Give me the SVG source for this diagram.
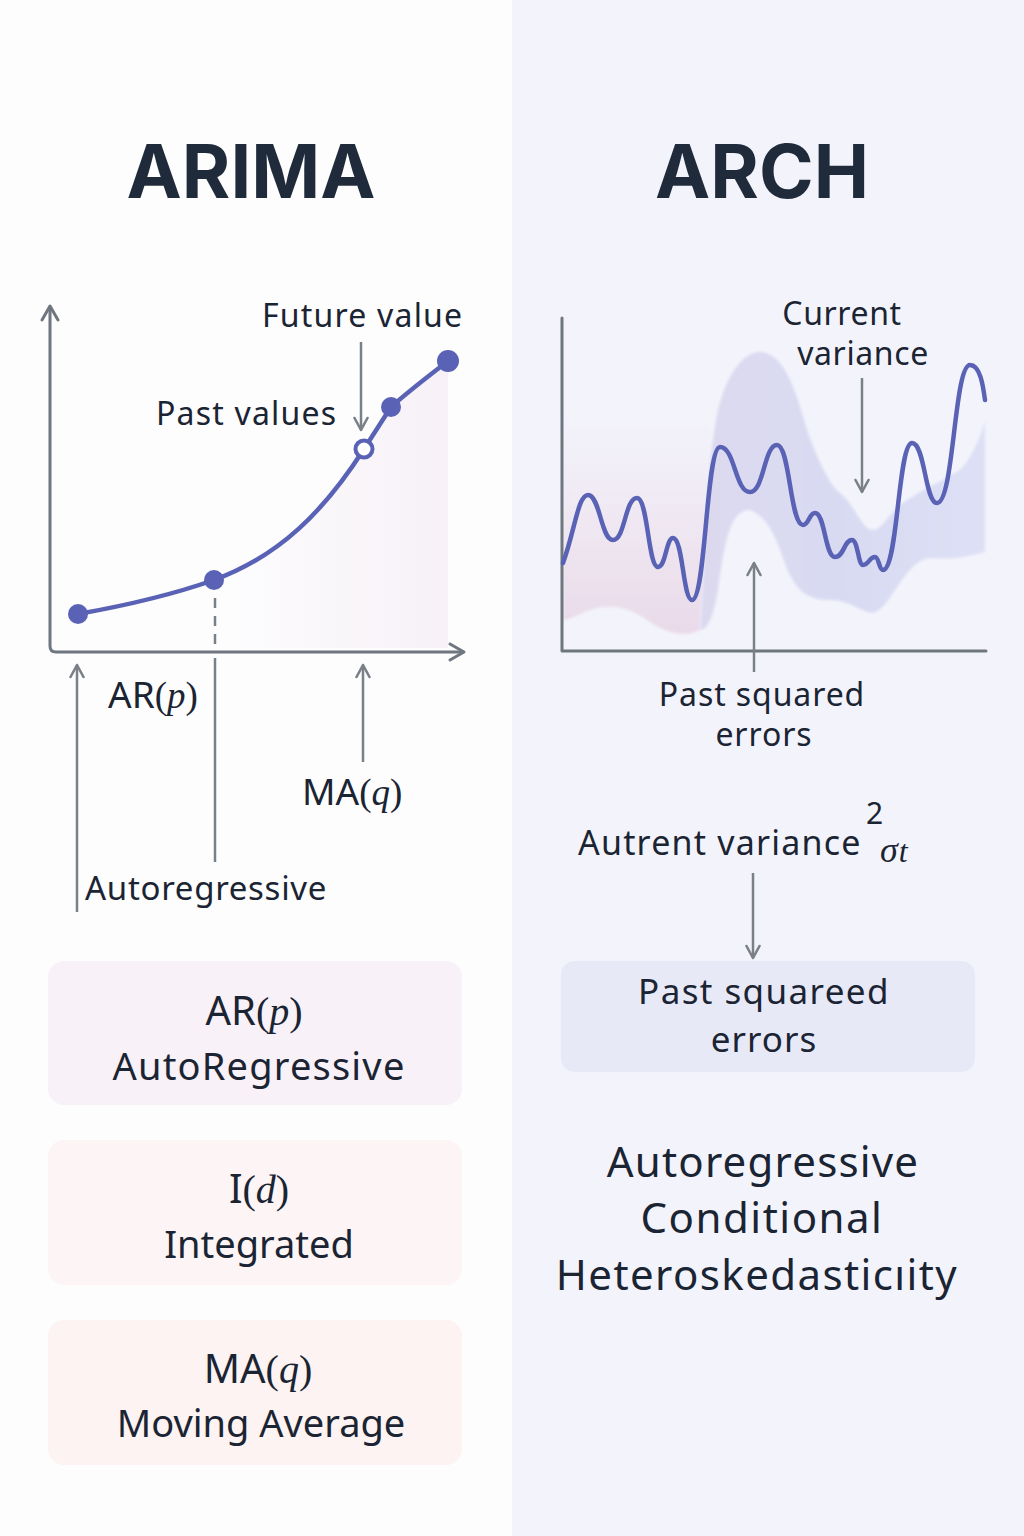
<svg xmlns="http://www.w3.org/2000/svg" width="1024" height="1536" viewBox="0 0 1024 1536">
<defs>
<style>
.t{font-family:"Noto Sans","Open Sans",sans-serif;fill:#1b2433;}
.title{font-family:Inter,"Liberation Sans",sans-serif;font-weight:700;fill:#1f2a3a;font-size:74px;text-anchor:middle;}
.m{font-family:"Liberation Serif","DejaVu Serif",serif;letter-spacing:0;}
.mi{font-family:"Liberation Serif","DejaVu Serif",serif;font-style:italic;letter-spacing:0;}
.ax{stroke:#6f767f;stroke-width:3;fill:none;stroke-linecap:round;stroke-linejoin:round;}
.ar{stroke:#7a8088;stroke-width:2.5;fill:none;}
.c{text-anchor:middle;}
</style>
<marker id="ah" viewBox="0 0 16 16" refX="14" refY="8" markerWidth="16" markerHeight="16" markerUnits="userSpaceOnUse" orient="auto">
<path d="M2,1.5 L14,8 L2,14.5" fill="none" stroke="#7a8088" stroke-width="2.6" stroke-linejoin="round" stroke-linecap="round"/>
</marker>
<linearGradient id="pinkfill" x1="0" y1="0" x2="1" y2="0">
<stop offset="0" stop-color="#f5edf5" stop-opacity="0"/>
<stop offset="1" stop-color="#f5eef5" stop-opacity="1"/>
</linearGradient>
<linearGradient id="band" x1="0" y1="0" x2="1" y2="0">
<stop offset="0" stop-color="#dcd9ef"/>
<stop offset="0.5" stop-color="#d8daf2"/>
<stop offset="1" stop-color="#dde0f5"/>
</linearGradient>
<linearGradient id="pinkband" x1="0" y1="0" x2="0" y2="1">
<stop offset="0" stop-color="#efe6f1" stop-opacity="0"/>
<stop offset="0.55" stop-color="#ede2ee" stop-opacity="0.75"/>
<stop offset="1" stop-color="#e9d9e9" stop-opacity="1"/>
</linearGradient>
<filter id="soft" x="-5%" y="-5%" width="110%" height="110%"><feGaussianBlur stdDeviation="1.5"/></filter>
</defs>

<rect x="0" y="0" width="512" height="1536" fill="#fdfdfe"/>
<rect x="512" y="0" width="512" height="1536" fill="#f3f4fb"/>

<g id="title-arima"><text class="title" x="251" y="198">ARIMA</text></g>
<g id="title-arch"><text class="title" x="762" y="198">ARCH</text></g>

<g id="arima-chart">
<path d="M214,580 C280,556 325,510 364,449 L391,407 C410,390 430,375 448,361 L448,648 L214,648 Z" fill="url(#pinkfill)" opacity="0.8"/>
<path class="ax" d="M50,307 L50,646 Q50,652 56,652 L463,652"/>
<path class="ax" d="M42,320 L50,306 L58,320"/>
<path class="ax" d="M450,644 L464,652 L450,660"/>
<path d="M78,614 C140,603 180,592 214,580 C280,556 325,510 364,449 L391,407 C410,390 430,375 448,361" fill="none" stroke="#5a62b5" stroke-width="4.5" stroke-linecap="round"/>
<circle cx="78" cy="614" r="10" fill="#5a62b5"/>
<circle cx="214" cy="580" r="10" fill="#5a62b5"/>
<circle cx="364" cy="449" r="8.5" fill="#ffffff" stroke="#5a62b5" stroke-width="4"/>
<circle cx="391" cy="407" r="10" fill="#5a62b5"/>
<circle cx="448" cy="361" r="11" fill="#5a62b5"/>
<text class="t" x="262" y="327" font-size="32" letter-spacing="1.2">Future value</text>
<text class="t" x="156" y="425" font-size="32" letter-spacing="1.2">Past values</text>
</g>

<g id="arch-chart">
<path d="M563,400 L714,400 C707,450 704,560 700,630 C690,636 670,636 650,622 C630,607 610,603 590,610 C578,614 570,620 563,620 Z" fill="url(#pinkband)" filter="url(#soft)"/>
<path d="M700,630 C705,560 705,470 718,410 C728,370 745,352 760,352 C785,352 797,395 807,430 C820,465 830,485 840,493 C855,505 862,530 873,530 C882,530 888,515 900,505 C920,490 940,482 960,470 C970,460 980,440 985,420 L985,552 C970,556 955,560 930,558 C905,560 890,610 873,613 C860,612 850,600 830,600 C812,600 800,595 790,575 C780,555 775,520 750,510 C730,510 725,540 718,590 C714,615 708,630 700,630 Z" fill="url(#band)" filter="url(#soft)"/>
<path class="ax" d="M562,318 L562,651 L986,651" stroke-linecap="butt"/>
<path d="M563,563 C575,530 578,495 588,495 C600,495 601,540 613,540 C625,540 625,498 637,498 C648,498 648,567 658,567 C666,567 666,538 673,538 C683,538 683,600 692,600 C706,600 706,447 720,447 C735,447 735,492 750,492 C764,492 764,445 777,445 C790,445 790,525 803,525 C809,525 809,513 815,513 C825,513 825,557 835,557 C844,557 844,540 852,540 C858,540 858,565 863,565 C869,565 869,557 875,557 C879,557 879,570 883,570 C898,570 898,443 912,443 C925,443 925,503 937,503 C954,503 954,365 970,365 C980,365 983,385 985,400" fill="none" stroke="#5a62b5" stroke-width="4.5" stroke-linecap="round"/>
<text class="t" x="842" y="325" font-size="32" letter-spacing="0.6" text-anchor="middle">Current</text>
<text class="t" x="863" y="365" font-size="32" letter-spacing="0.6" text-anchor="middle">variance</text>
<text class="t" x="762" y="706" font-size="32" letter-spacing="0.9" text-anchor="middle">Past squared</text>
<text class="t" x="764" y="746" font-size="32" letter-spacing="0.9" text-anchor="middle">errors</text>
</g>

<g id="labels-arima">
<text class="t" x="108" y="708" font-size="37">AR<tspan class="m">(</tspan><tspan class="mi">p</tspan><tspan class="m">)</tspan></text>
<text class="t" x="302" y="805" font-size="37">MA<tspan class="m">(</tspan><tspan class="mi">q</tspan><tspan class="m">)</tspan></text>
<text class="t" x="85" y="900" font-size="33" letter-spacing="0.7">Autoregressive</text>
</g>

<g id="label-autrent">
<text class="t" x="578" y="855" font-size="34" letter-spacing="1.2">Autrent variance</text>
<text class="t" x="866" y="824" font-size="30">2</text>
<text class="mi" x="880" y="862" font-size="36" fill="#1b2433">σ<tspan font-size="32" dx="1">t</tspan></text>
</g>

<g id="connectors">
<line class="ar" x1="361" y1="342" x2="361" y2="430" marker-end="url(#ah)"/>
<line class="ar" x1="215" y1="598" x2="215" y2="650" stroke-dasharray="10,8"/>
<line class="ar" x1="215" y1="658" x2="215" y2="862"/>
<line class="ar" x1="77" y1="912" x2="77" y2="665" marker-end="url(#ah)"/>
<line class="ar" x1="363" y1="762" x2="363" y2="665" marker-end="url(#ah)"/>
<line class="ar" x1="862" y1="378" x2="862" y2="492" marker-end="url(#ah)"/>
<line class="ar" x1="754" y1="672" x2="754" y2="563" marker-end="url(#ah)"/>
<line class="ar" x1="753" y1="873" x2="753" y2="958" marker-end="url(#ah)"/>
</g>

<g id="box-ar">
<rect x="48" y="961" width="414" height="144" rx="16" fill="#f8f1f8"/>
<text class="t c" x="254" y="1025" font-size="40">AR<tspan class="m">(</tspan><tspan class="mi">p</tspan><tspan class="m">)</tspan></text>
<text class="t c" x="259" y="1080" font-size="38" letter-spacing="1.2">AutoRegressive</text>
</g>
<g id="box-i">
<rect x="48" y="1140" width="414" height="145" rx="16" fill="#fcf4f5"/>
<text class="t c" x="259" y="1203" font-size="40">I<tspan class="m">(</tspan><tspan class="mi">d</tspan><tspan class="m">)</tspan></text>
<text class="t c" x="259" y="1258" font-size="38">Integrated</text>
</g>
<g id="box-ma">
<rect x="48" y="1320" width="414" height="145" rx="16" fill="#fcf3f2"/>
<text class="t c" x="258" y="1383" font-size="40">MA<tspan class="m">(</tspan><tspan class="mi">q</tspan><tspan class="m">)</tspan></text>
<text class="t c" x="261" y="1437" font-size="38">Moving Average</text>
</g>

<g id="box-past">
<rect x="561" y="961" width="414" height="111" rx="14" fill="#e7e9f7"/>
<text class="t c" x="764" y="1004" font-size="35" letter-spacing="1.4">Past squareed</text>
<text class="t c" x="764" y="1052" font-size="35" letter-spacing="1">errors</text>
</g>

<g id="arch-name">
<text class="t c" x="763" y="1177" font-size="42" letter-spacing="1.2">Autoregressive</text>
<text class="t c" x="762" y="1233" font-size="42" letter-spacing="1.5">Conditional</text>
<text class="t c" x="757" y="1290" font-size="42" letter-spacing="1.4">Heteroskedasticıity</text>
</g>
</svg>
